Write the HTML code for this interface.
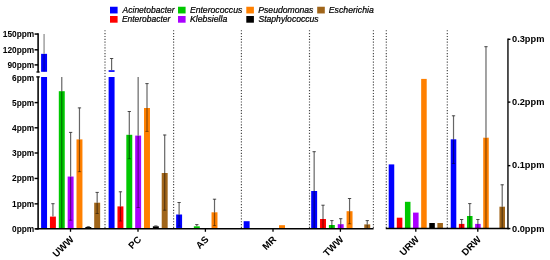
<!DOCTYPE html>
<html><head><meta charset="utf-8"><title>Chart</title>
<style>
html,body{margin:0;padding:0;background:#fff;}
body{width:550px;height:260px;overflow:hidden;}
svg{display:block;}
text{font-family:"Liberation Sans",Arial,sans-serif;fill:#000;}
.yl{font-weight:bold;font-size:8.35px;}
.yr{font-weight:bold;font-size:9.25px;}
.xl{font-weight:bold;font-size:9.6px;}
.lg{font-style:italic;font-size:8.7px;stroke:#000;stroke-width:0.22px;}
</style></head><body>
<svg width="550" height="260" viewBox="0 0 550 260">
<rect x="0" y="0" width="550" height="260" fill="#fff"/>
<line x1="105.00" y1="30.20" x2="105.00" y2="228.00" stroke="#454545" stroke-width="1.15" stroke-dasharray="1.15 1.7"/>
<line x1="173.60" y1="30.20" x2="173.60" y2="228.00" stroke="#454545" stroke-width="1.15" stroke-dasharray="1.15 1.7"/>
<line x1="241.40" y1="30.20" x2="241.40" y2="228.00" stroke="#454545" stroke-width="1.15" stroke-dasharray="1.15 1.7"/>
<line x1="309.50" y1="30.20" x2="309.50" y2="228.00" stroke="#454545" stroke-width="1.15" stroke-dasharray="1.15 1.7"/>
<line x1="373.40" y1="30.20" x2="373.40" y2="228.00" stroke="#454545" stroke-width="1.15" stroke-dasharray="1.15 1.7"/>
<line x1="386.30" y1="30.20" x2="386.30" y2="228.00" stroke="#454545" stroke-width="1.15" stroke-dasharray="1.15 1.7"/>
<line x1="447.30" y1="30.20" x2="447.30" y2="228.00" stroke="#454545" stroke-width="1.15" stroke-dasharray="1.15 1.7"/>
<rect x="41.10" y="77.00" width="5.95" height="151.30" fill="#0000FF"/>
<rect x="49.95" y="216.60" width="5.95" height="11.70" fill="#FF0000"/>
<rect x="58.80" y="91.20" width="5.95" height="137.10" fill="#00C800"/>
<rect x="67.65" y="176.55" width="5.95" height="51.75" fill="#AA00FF"/>
<rect x="76.50" y="139.40" width="5.95" height="88.90" fill="#FF8000"/>
<rect x="85.35" y="227.00" width="5.95" height="1.30" fill="#000000"/>
<rect x="94.20" y="202.70" width="5.95" height="25.60" fill="#A0651A"/>
<line x1="52.93" y1="203.50" x2="52.93" y2="216.60" stroke="#666" stroke-width="1.2" />
<line x1="51.28" y1="203.70" x2="54.58" y2="203.70" stroke="#3a3a3a" stroke-width="0.9" />
<line x1="61.77" y1="77.00" x2="61.77" y2="91.20" stroke="#666" stroke-width="1.2" />
<line x1="61.77" y1="91.20" x2="61.77" y2="228.00" stroke="rgba(0,0,0,0.45)" stroke-width="1.2" />
<line x1="70.62" y1="132.20" x2="70.62" y2="176.55" stroke="#666" stroke-width="1.2" />
<line x1="68.97" y1="132.40" x2="72.28" y2="132.40" stroke="#3a3a3a" stroke-width="0.9" />
<line x1="70.62" y1="176.55" x2="70.62" y2="220.40" stroke="rgba(0,0,0,0.45)" stroke-width="1.2" />
<line x1="68.97" y1="220.20" x2="72.28" y2="220.20" stroke="rgba(0,0,0,0.45)" stroke-width="0.9" />
<line x1="79.47" y1="107.70" x2="79.47" y2="139.40" stroke="#666" stroke-width="1.2" />
<line x1="77.82" y1="107.90" x2="81.12" y2="107.90" stroke="#3a3a3a" stroke-width="0.9" />
<line x1="79.47" y1="139.40" x2="79.47" y2="171.90" stroke="rgba(0,0,0,0.45)" stroke-width="1.2" />
<line x1="77.82" y1="171.70" x2="81.12" y2="171.70" stroke="rgba(0,0,0,0.45)" stroke-width="0.9" />
<line x1="88.32" y1="226.60" x2="88.32" y2="227.00" stroke="#666" stroke-width="1.2" />
<line x1="86.67" y1="226.80" x2="89.97" y2="226.80" stroke="#3a3a3a" stroke-width="0.9" />
<line x1="97.17" y1="192.20" x2="97.17" y2="202.70" stroke="#666" stroke-width="1.2" />
<line x1="95.52" y1="192.40" x2="98.82" y2="192.40" stroke="#3a3a3a" stroke-width="0.9" />
<line x1="97.17" y1="202.70" x2="97.17" y2="213.70" stroke="rgba(0,0,0,0.45)" stroke-width="1.2" />
<line x1="95.52" y1="213.50" x2="98.82" y2="213.50" stroke="rgba(0,0,0,0.45)" stroke-width="0.9" />
<rect x="108.62" y="77.00" width="5.95" height="151.30" fill="#0000FF"/>
<rect x="117.47" y="206.40" width="5.95" height="21.90" fill="#FF0000"/>
<rect x="126.32" y="134.80" width="5.95" height="93.50" fill="#00C800"/>
<rect x="135.17" y="135.60" width="5.95" height="92.70" fill="#AA00FF"/>
<rect x="144.02" y="108.00" width="5.95" height="120.30" fill="#FF8000"/>
<rect x="152.87" y="226.30" width="5.95" height="2.00" fill="#000000"/>
<rect x="161.72" y="173.00" width="5.95" height="55.30" fill="#A0651A"/>
<line x1="120.44" y1="191.60" x2="120.44" y2="206.40" stroke="#666" stroke-width="1.2" />
<line x1="118.79" y1="191.80" x2="122.09" y2="191.80" stroke="#3a3a3a" stroke-width="0.9" />
<line x1="120.44" y1="206.40" x2="120.44" y2="221.20" stroke="rgba(0,0,0,0.45)" stroke-width="1.2" />
<line x1="118.79" y1="221.00" x2="122.09" y2="221.00" stroke="rgba(0,0,0,0.45)" stroke-width="0.9" />
<line x1="129.30" y1="111.30" x2="129.30" y2="134.80" stroke="#666" stroke-width="1.2" />
<line x1="127.65" y1="111.50" x2="130.95" y2="111.50" stroke="#3a3a3a" stroke-width="0.9" />
<line x1="129.30" y1="134.80" x2="129.30" y2="159.00" stroke="rgba(0,0,0,0.45)" stroke-width="1.2" />
<line x1="127.65" y1="158.80" x2="130.95" y2="158.80" stroke="rgba(0,0,0,0.45)" stroke-width="0.9" />
<line x1="138.15" y1="77.00" x2="138.15" y2="135.60" stroke="#666" stroke-width="1.2" />
<line x1="138.15" y1="135.60" x2="138.15" y2="207.70" stroke="rgba(0,0,0,0.45)" stroke-width="1.2" />
<line x1="136.50" y1="207.50" x2="139.80" y2="207.50" stroke="rgba(0,0,0,0.45)" stroke-width="0.9" />
<line x1="147.00" y1="83.40" x2="147.00" y2="108.00" stroke="#666" stroke-width="1.2" />
<line x1="145.34" y1="83.60" x2="148.65" y2="83.60" stroke="#3a3a3a" stroke-width="0.9" />
<line x1="147.00" y1="108.00" x2="147.00" y2="131.60" stroke="rgba(0,0,0,0.45)" stroke-width="1.2" />
<line x1="145.34" y1="131.40" x2="148.65" y2="131.40" stroke="rgba(0,0,0,0.45)" stroke-width="0.9" />
<line x1="155.84" y1="225.80" x2="155.84" y2="226.30" stroke="#666" stroke-width="1.2" />
<line x1="154.19" y1="226.00" x2="157.50" y2="226.00" stroke="#3a3a3a" stroke-width="0.9" />
<line x1="164.69" y1="134.80" x2="164.69" y2="173.00" stroke="#666" stroke-width="1.2" />
<line x1="163.04" y1="135.00" x2="166.34" y2="135.00" stroke="#3a3a3a" stroke-width="0.9" />
<line x1="164.69" y1="173.00" x2="164.69" y2="210.40" stroke="rgba(0,0,0,0.45)" stroke-width="1.2" />
<line x1="163.04" y1="210.20" x2="166.34" y2="210.20" stroke="rgba(0,0,0,0.45)" stroke-width="0.9" />
<rect x="176.14" y="214.50" width="5.95" height="13.80" fill="#0000FF"/>
<rect x="193.84" y="226.30" width="5.95" height="2.00" fill="#00C800"/>
<rect x="211.54" y="212.30" width="5.95" height="16.00" fill="#FF8000"/>
<line x1="179.11" y1="202.30" x2="179.11" y2="214.50" stroke="#666" stroke-width="1.2" />
<line x1="177.46" y1="202.50" x2="180.76" y2="202.50" stroke="#3a3a3a" stroke-width="0.9" />
<line x1="179.11" y1="214.50" x2="179.11" y2="226.30" stroke="rgba(0,0,0,0.45)" stroke-width="1.2" />
<line x1="177.46" y1="226.10" x2="180.76" y2="226.10" stroke="rgba(0,0,0,0.45)" stroke-width="0.9" />
<line x1="196.81" y1="224.40" x2="196.81" y2="226.30" stroke="#666" stroke-width="1.2" />
<line x1="195.16" y1="224.60" x2="198.46" y2="224.60" stroke="#3a3a3a" stroke-width="0.9" />
<line x1="214.51" y1="199.00" x2="214.51" y2="212.30" stroke="#666" stroke-width="1.2" />
<line x1="212.86" y1="199.20" x2="216.16" y2="199.20" stroke="#3a3a3a" stroke-width="0.9" />
<line x1="214.51" y1="212.30" x2="214.51" y2="225.80" stroke="rgba(0,0,0,0.45)" stroke-width="1.2" />
<line x1="212.86" y1="225.60" x2="216.16" y2="225.60" stroke="rgba(0,0,0,0.45)" stroke-width="0.9" />
<rect x="243.66" y="221.20" width="5.95" height="7.10" fill="#0000FF"/>
<rect x="279.06" y="225.20" width="5.95" height="3.10" fill="#FF8000"/>
<rect x="311.18" y="191.00" width="5.95" height="37.30" fill="#0000FF"/>
<rect x="320.03" y="219.00" width="5.95" height="9.30" fill="#FF0000"/>
<rect x="328.88" y="225.00" width="5.95" height="3.30" fill="#00C800"/>
<rect x="337.73" y="224.20" width="5.95" height="4.10" fill="#AA00FF"/>
<rect x="346.58" y="211.20" width="5.95" height="17.10" fill="#FF8000"/>
<rect x="364.28" y="224.40" width="5.95" height="3.90" fill="#A0651A"/>
<line x1="314.16" y1="151.50" x2="314.16" y2="191.00" stroke="#666" stroke-width="1.2" />
<line x1="312.51" y1="151.70" x2="315.81" y2="151.70" stroke="#3a3a3a" stroke-width="0.9" />
<line x1="314.16" y1="191.00" x2="314.16" y2="228.00" stroke="rgba(0,0,0,0.45)" stroke-width="1.2" />
<line x1="323.01" y1="205.00" x2="323.01" y2="219.00" stroke="#666" stroke-width="1.2" />
<line x1="321.36" y1="205.20" x2="324.66" y2="205.20" stroke="#3a3a3a" stroke-width="0.9" />
<line x1="323.01" y1="219.00" x2="323.01" y2="228.00" stroke="rgba(0,0,0,0.45)" stroke-width="1.2" />
<line x1="331.86" y1="220.40" x2="331.86" y2="225.00" stroke="#666" stroke-width="1.2" />
<line x1="330.21" y1="220.60" x2="333.50" y2="220.60" stroke="#3a3a3a" stroke-width="0.9" />
<line x1="331.86" y1="225.00" x2="331.86" y2="228.00" stroke="rgba(0,0,0,0.45)" stroke-width="1.2" />
<line x1="340.71" y1="218.50" x2="340.71" y2="224.20" stroke="#666" stroke-width="1.2" />
<line x1="339.06" y1="218.70" x2="342.36" y2="218.70" stroke="#3a3a3a" stroke-width="0.9" />
<line x1="340.71" y1="224.20" x2="340.71" y2="228.00" stroke="rgba(0,0,0,0.45)" stroke-width="1.2" />
<line x1="349.56" y1="198.30" x2="349.56" y2="211.20" stroke="#666" stroke-width="1.2" />
<line x1="347.91" y1="198.50" x2="351.20" y2="198.50" stroke="#3a3a3a" stroke-width="0.9" />
<line x1="349.56" y1="211.20" x2="349.56" y2="224.00" stroke="rgba(0,0,0,0.45)" stroke-width="1.2" />
<line x1="347.91" y1="223.80" x2="351.20" y2="223.80" stroke="rgba(0,0,0,0.45)" stroke-width="0.9" />
<line x1="367.25" y1="220.40" x2="367.25" y2="224.40" stroke="#666" stroke-width="1.2" />
<line x1="365.61" y1="220.60" x2="368.90" y2="220.60" stroke="#3a3a3a" stroke-width="0.9" />
<line x1="367.25" y1="224.40" x2="367.25" y2="228.00" stroke="rgba(0,0,0,0.45)" stroke-width="1.2" />
<rect x="388.70" y="164.40" width="5.55" height="63.90" fill="#0000FF"/>
<rect x="396.81" y="217.70" width="5.55" height="10.60" fill="#FF0000"/>
<rect x="404.93" y="201.80" width="5.55" height="26.50" fill="#00C800"/>
<rect x="413.04" y="212.60" width="5.55" height="15.70" fill="#AA00FF"/>
<rect x="421.16" y="78.90" width="5.55" height="149.40" fill="#FF8000"/>
<rect x="429.27" y="223.00" width="5.55" height="5.30" fill="#000000"/>
<rect x="437.39" y="223.00" width="5.55" height="5.30" fill="#A0651A"/>
<rect x="450.75" y="139.30" width="5.55" height="89.00" fill="#0000FF"/>
<rect x="458.87" y="223.90" width="5.55" height="4.40" fill="#FF0000"/>
<rect x="466.98" y="216.00" width="5.55" height="12.30" fill="#00C800"/>
<rect x="475.10" y="223.90" width="5.55" height="4.40" fill="#AA00FF"/>
<rect x="483.21" y="137.70" width="5.55" height="90.60" fill="#FF8000"/>
<rect x="499.44" y="206.70" width="5.55" height="21.60" fill="#A0651A"/>
<line x1="453.52" y1="115.60" x2="453.52" y2="139.30" stroke="#666" stroke-width="1.2" />
<line x1="451.88" y1="115.80" x2="455.17" y2="115.80" stroke="#3a3a3a" stroke-width="0.9" />
<line x1="453.52" y1="139.30" x2="453.52" y2="163.70" stroke="rgba(0,0,0,0.45)" stroke-width="1.2" />
<line x1="451.88" y1="163.50" x2="455.17" y2="163.50" stroke="rgba(0,0,0,0.45)" stroke-width="0.9" />
<line x1="461.64" y1="219.30" x2="461.64" y2="223.90" stroke="#666" stroke-width="1.2" />
<line x1="459.99" y1="219.50" x2="463.29" y2="219.50" stroke="#3a3a3a" stroke-width="0.9" />
<line x1="461.64" y1="223.90" x2="461.64" y2="228.00" stroke="rgba(0,0,0,0.45)" stroke-width="1.2" />
<line x1="469.75" y1="203.40" x2="469.75" y2="216.00" stroke="#666" stroke-width="1.2" />
<line x1="468.11" y1="203.60" x2="471.40" y2="203.60" stroke="#3a3a3a" stroke-width="0.9" />
<line x1="469.75" y1="216.00" x2="469.75" y2="228.00" stroke="rgba(0,0,0,0.45)" stroke-width="1.2" />
<line x1="477.87" y1="219.30" x2="477.87" y2="223.90" stroke="#666" stroke-width="1.2" />
<line x1="476.22" y1="219.50" x2="479.52" y2="219.50" stroke="#3a3a3a" stroke-width="0.9" />
<line x1="477.87" y1="223.90" x2="477.87" y2="228.00" stroke="rgba(0,0,0,0.45)" stroke-width="1.2" />
<line x1="485.98" y1="46.50" x2="485.98" y2="137.70" stroke="#666" stroke-width="1.2" />
<line x1="484.33" y1="46.70" x2="487.63" y2="46.70" stroke="#3a3a3a" stroke-width="0.9" />
<line x1="485.98" y1="137.70" x2="485.98" y2="228.00" stroke="rgba(0,0,0,0.45)" stroke-width="1.2" />
<line x1="502.21" y1="184.60" x2="502.21" y2="206.70" stroke="#666" stroke-width="1.2" />
<line x1="500.56" y1="184.80" x2="503.86" y2="184.80" stroke="#3a3a3a" stroke-width="0.9" />
<line x1="502.21" y1="206.70" x2="502.21" y2="228.00" stroke="rgba(0,0,0,0.45)" stroke-width="1.2" />
<rect x="41.10" y="53.85" width="5.95" height="17.95" fill="#0000FF"/>
<line x1="44.08" y1="34.00" x2="44.08" y2="53.85" stroke="#999" stroke-width="1.4" />
<line x1="44.08" y1="53.85" x2="44.08" y2="71.80" stroke="rgba(0,0,0,0.25)" stroke-width="1.4" />
<rect x="108.62" y="70.20" width="5.95" height="1.70" fill="#0000FF"/>
<line x1="111.59" y1="58.30" x2="111.59" y2="70.20" stroke="#666" stroke-width="1.2" />
<line x1="109.94" y1="58.50" x2="113.25" y2="58.50" stroke="#3a3a3a" stroke-width="0.9" />
<line x1="38.10" y1="33.30" x2="38.10" y2="72.40" stroke="#000" stroke-width="1.55" />
<line x1="36.30" y1="72.00" x2="39.80" y2="72.00" stroke="#000" stroke-width="1.0" />
<line x1="38.10" y1="76.40" x2="38.10" y2="229.40" stroke="#000" stroke-width="1.55" />
<line x1="36.20" y1="76.90" x2="39.80" y2="76.90" stroke="#000" stroke-width="1.2" />
<line x1="34.60" y1="34.05" x2="38.10" y2="34.05" stroke="#000" stroke-width="1.5" />
<line x1="34.60" y1="49.80" x2="38.10" y2="49.80" stroke="#000" stroke-width="1.5" />
<line x1="34.60" y1="64.90" x2="38.10" y2="64.90" stroke="#000" stroke-width="1.5" />
<line x1="34.60" y1="228.85" x2="38.10" y2="228.85" stroke="#000" stroke-width="1.45" />
<line x1="34.60" y1="203.85" x2="38.10" y2="203.85" stroke="#000" stroke-width="1.45" />
<line x1="34.60" y1="178.45" x2="38.10" y2="178.45" stroke="#000" stroke-width="1.45" />
<line x1="34.60" y1="153.00" x2="38.10" y2="153.00" stroke="#000" stroke-width="1.45" />
<line x1="34.60" y1="127.80" x2="38.10" y2="127.80" stroke="#000" stroke-width="1.45" />
<line x1="34.60" y1="102.60" x2="38.10" y2="102.60" stroke="#000" stroke-width="1.45" />
<line x1="35.40" y1="228.70" x2="373.60" y2="228.70" stroke="#000" stroke-width="1.55" />
<line x1="385.75" y1="228.55" x2="508.60" y2="228.55" stroke="#000" stroke-width="1.4" />
<line x1="507.95" y1="38.60" x2="507.95" y2="229.25" stroke="#000" stroke-width="1.35" />
<line x1="507.95" y1="228.55" x2="510.40" y2="228.55" stroke="#000" stroke-width="1.4" />
<line x1="507.95" y1="165.65" x2="510.40" y2="165.65" stroke="#000" stroke-width="1.4" />
<line x1="507.95" y1="102.10" x2="510.40" y2="102.10" stroke="#000" stroke-width="1.4" />
<line x1="507.95" y1="39.30" x2="510.40" y2="39.30" stroke="#000" stroke-width="1.4" />
<line x1="70.50" y1="229.00" x2="70.50" y2="231.80" stroke="#000" stroke-width="1.3" />
<line x1="138.00" y1="229.00" x2="138.00" y2="231.80" stroke="#000" stroke-width="1.3" />
<line x1="205.40" y1="229.00" x2="205.40" y2="231.80" stroke="#000" stroke-width="1.3" />
<line x1="273.00" y1="229.00" x2="273.00" y2="231.80" stroke="#000" stroke-width="1.3" />
<line x1="340.40" y1="229.00" x2="340.40" y2="231.80" stroke="#000" stroke-width="1.3" />
<line x1="415.80" y1="229.00" x2="415.80" y2="231.80" stroke="#000" stroke-width="1.3" />
<line x1="477.80" y1="229.00" x2="477.80" y2="231.80" stroke="#000" stroke-width="1.3" />
<rect x="110.00" y="6.75" width="7.6" height="6.7" fill="#0000FF"/>
<rect x="110.00" y="16.00" width="7.6" height="6.7" fill="#FF0000"/>
<rect x="178.00" y="6.75" width="7.6" height="6.7" fill="#00C800"/>
<rect x="178.00" y="16.00" width="7.6" height="6.7" fill="#AA00FF"/>
<rect x="246.30" y="6.75" width="7.6" height="6.7" fill="#FF8000"/>
<rect x="246.30" y="16.00" width="7.6" height="6.7" fill="#000000"/>
<rect x="317.20" y="6.75" width="7.6" height="6.7" fill="#A0651A"/>
<text x="34.30" y="37.05" class="yl" text-anchor="end" >150ppm</text>
<text x="34.30" y="52.75" class="yl" text-anchor="end" >120ppm</text>
<text x="34.30" y="67.85" class="yl" text-anchor="end" >90ppm</text>
<text x="34.30" y="231.65" class="yl" text-anchor="end" >0ppm</text>
<text x="34.30" y="206.53" class="yl" text-anchor="end" >1ppm</text>
<text x="34.30" y="181.41" class="yl" text-anchor="end" >2ppm</text>
<text x="34.30" y="156.29" class="yl" text-anchor="end" >3ppm</text>
<text x="34.30" y="131.17" class="yl" text-anchor="end" >4ppm</text>
<text x="34.30" y="106.05" class="yl" text-anchor="end" >5ppm</text>
<text x="34.30" y="80.85" class="yl" text-anchor="end" >6ppm</text>
<text x="512.00" y="231.55" class="yr" text-anchor="start" >0.0ppm</text>
<text x="512.00" y="168.10" class="yr" text-anchor="start" >0.1ppm</text>
<text x="512.00" y="105.20" class="yr" text-anchor="start" >0.2ppm</text>
<text x="512.00" y="41.60" class="yr" text-anchor="start" >0.3ppm</text>
<text x="74.30" y="240.05" class="xl" text-anchor="end" transform="rotate(-45 74.30 240.05)">UWW</text>
<text x="141.80" y="240.05" class="xl" text-anchor="end" transform="rotate(-45 141.80 240.05)">PC</text>
<text x="209.20" y="240.05" class="xl" text-anchor="end" transform="rotate(-45 209.20 240.05)">AS</text>
<text x="276.80" y="240.05" class="xl" text-anchor="end" transform="rotate(-45 276.80 240.05)">MR</text>
<text x="344.20" y="240.05" class="xl" text-anchor="end" transform="rotate(-45 344.20 240.05)">TWW</text>
<text x="419.60" y="240.05" class="xl" text-anchor="end" transform="rotate(-45 419.60 240.05)">URW</text>
<text x="481.60" y="240.05" class="xl" text-anchor="end" transform="rotate(-45 481.60 240.05)">DRW</text>
<text x="122.60" y="12.80" class="lg" textLength="51.95" lengthAdjust="spacingAndGlyphs">Acinetobacter</text>
<text x="121.90" y="22.00" class="lg" textLength="48.45" lengthAdjust="spacingAndGlyphs">Enterobacter</text>
<text x="189.90" y="12.80" class="lg" textLength="52.40" lengthAdjust="spacingAndGlyphs">Enterococcus</text>
<text x="189.90" y="22.00" class="lg" textLength="37.40" lengthAdjust="spacingAndGlyphs">Klebsiella</text>
<text x="258.30" y="12.80" class="lg" textLength="55.10" lengthAdjust="spacingAndGlyphs">Pseudomonas</text>
<text x="258.40" y="22.00" class="lg" textLength="60.30" lengthAdjust="spacingAndGlyphs">Staphylococcus</text>
<text x="328.80" y="12.80" class="lg" textLength="44.95" lengthAdjust="spacingAndGlyphs">Escherichia</text>
</svg>
</body></html>
